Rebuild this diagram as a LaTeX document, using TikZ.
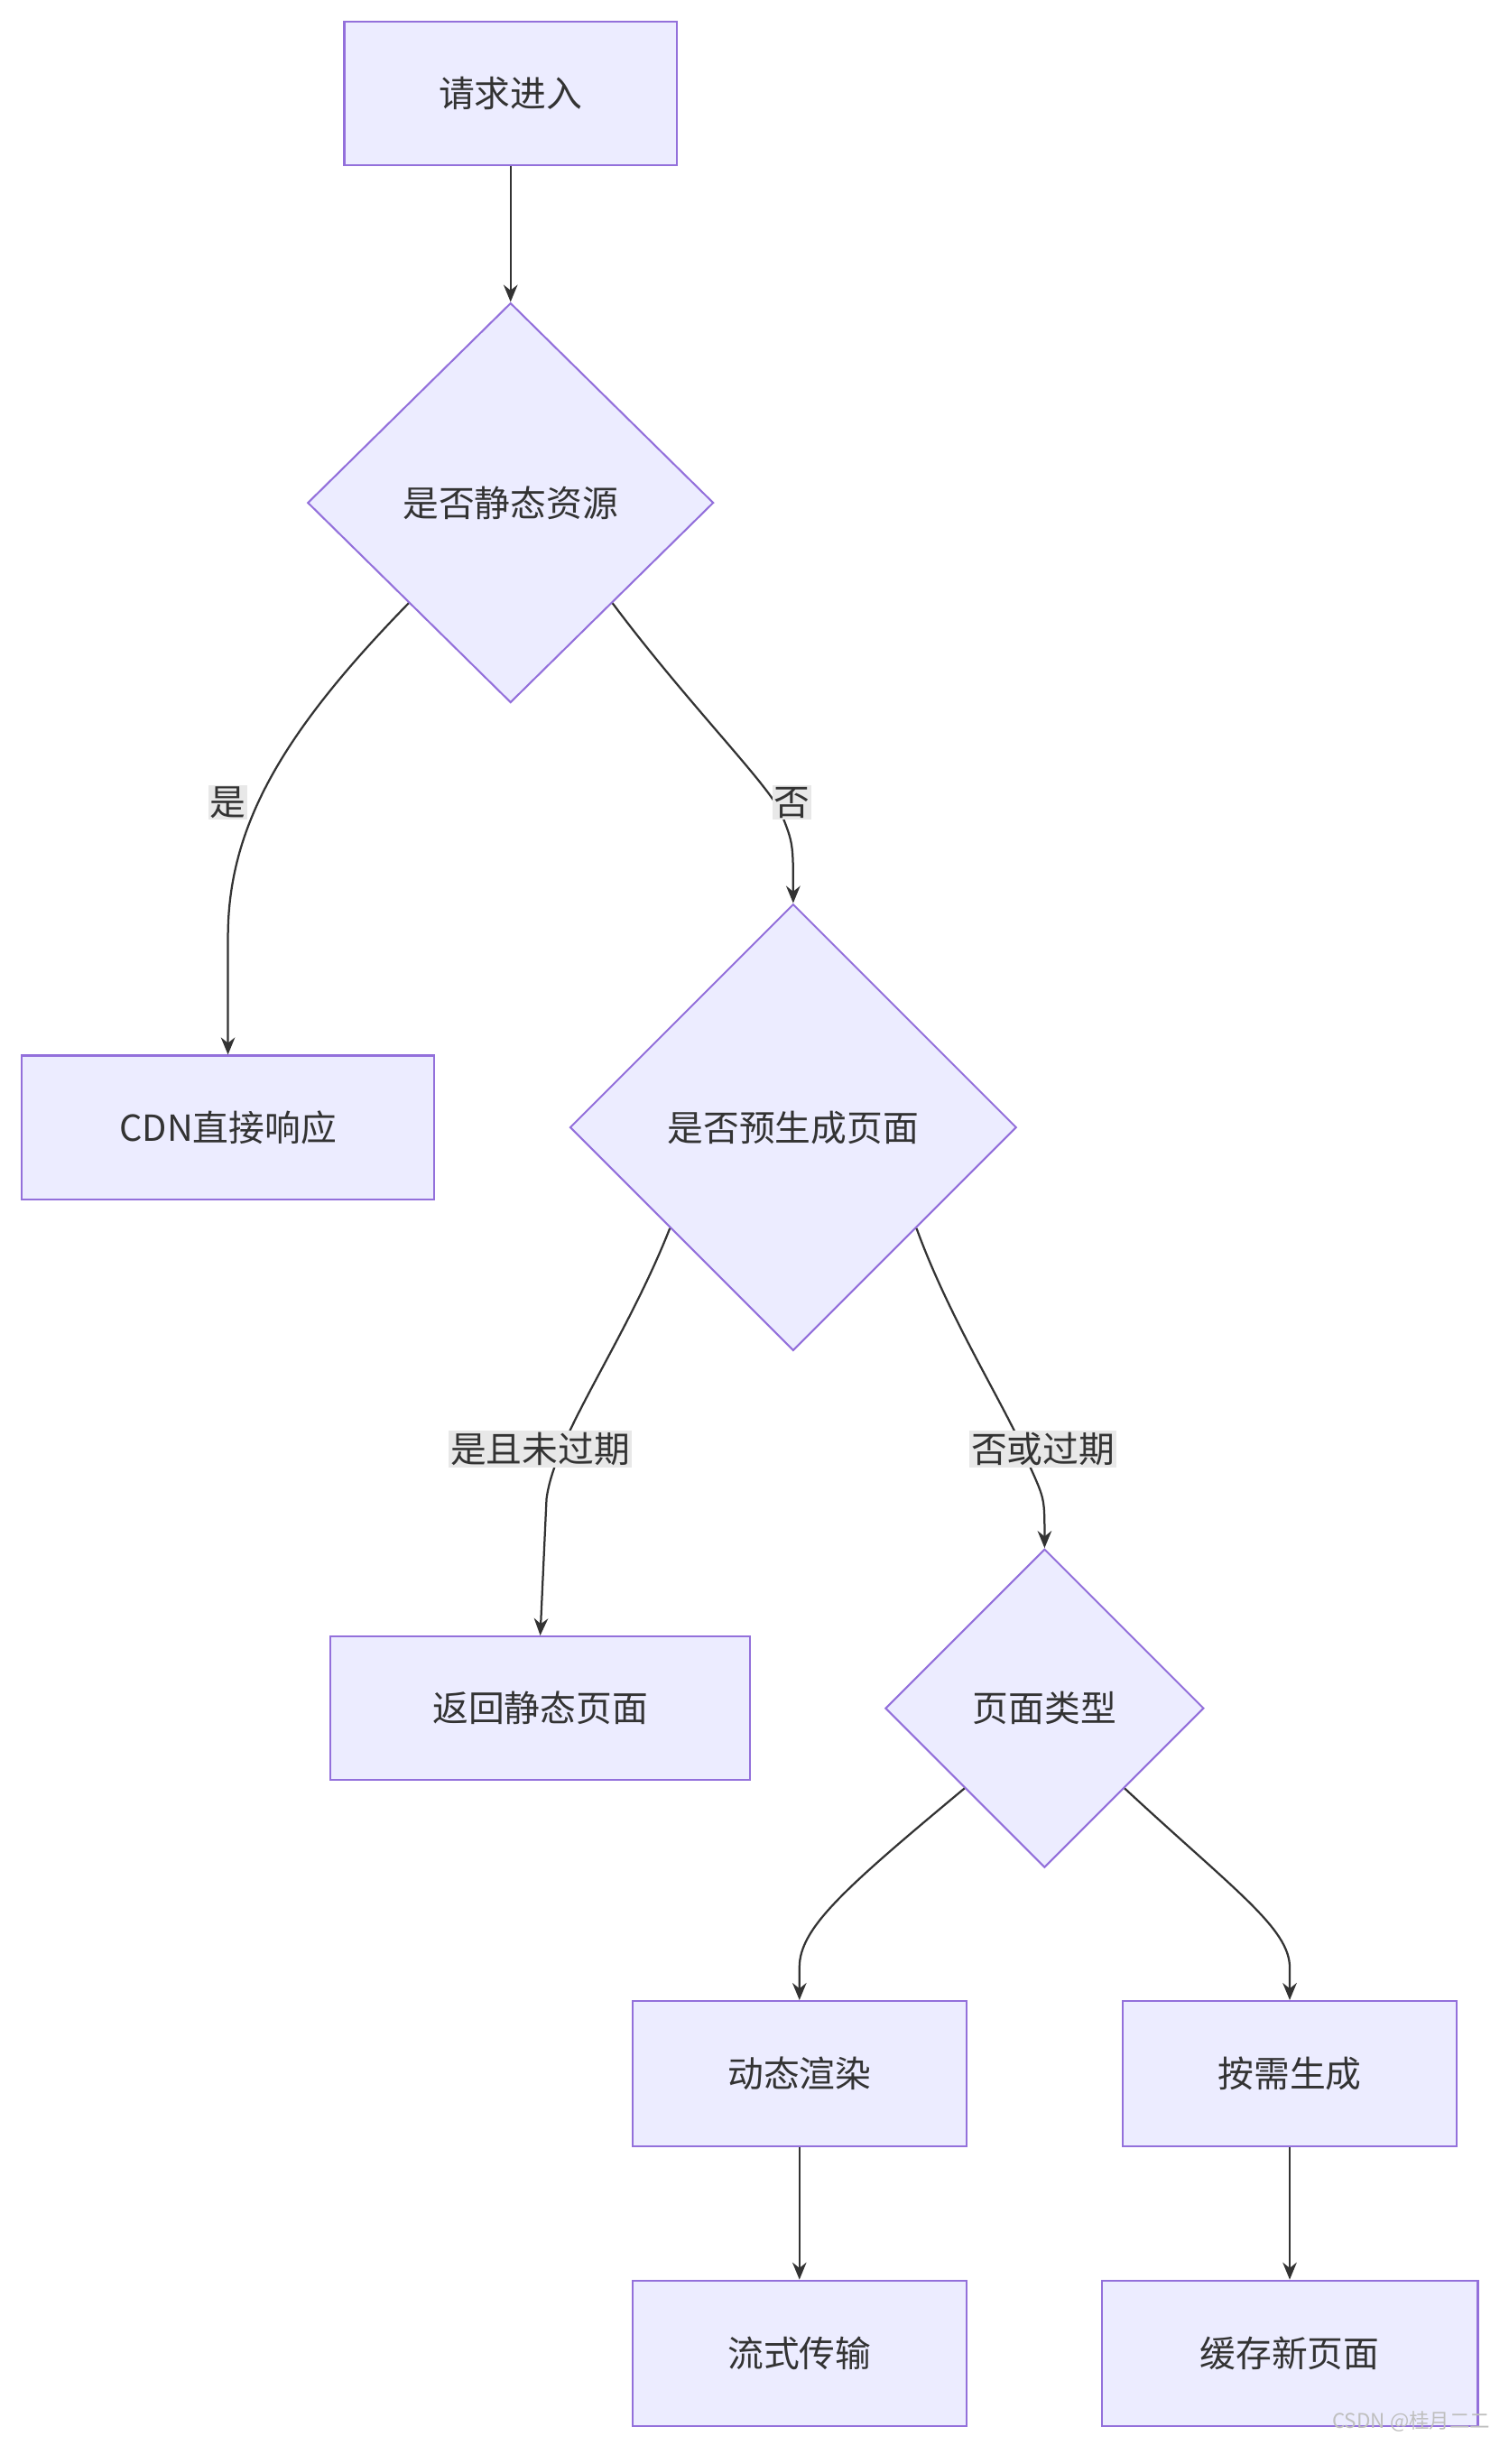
\documentclass[tikz,border=0pt]{standalone}
\usepackage{fontspec}
\setmainfont{Noto Sans CJK SC}
\usetikzlibrary{shapes.geometric,arrows.meta,calc}
\definecolor{nfill}{HTML}{ECECFF}
\definecolor{ndraw}{HTML}{9370DB}
\definecolor{edge}{HTML}{333333}
\definecolor{lbg}{HTML}{E8E8E8}
\begin{document}
\begin{tikzpicture}[x=1pt,y=-1pt,
  box/.style={draw=ndraw,fill=nfill,line width=1.2pt,inner sep=0pt,text=edge,font=\fontsize{23}{28}\selectfont},
  rbox/.style={box,rectangle},
  dia/.style={box,diamond},
  lab/.style={fill=lbg,inner sep=1pt,text=edge,font=\fontsize{23}{28}\selectfont},
  arr/.style={draw=edge,line width=1.3pt,-{Stealth[length=11pt,width=9pt]}}]
\useasboundingbox (0,0) rectangle (966,1578);
\node[rbox,minimum width=213,minimum height=92] (a) at (327,60) {请求进入};
\node[dia,minimum width=260,minimum height=256] (b) at (327,322) {是否静态资源};
\node[rbox,minimum width=264,minimum height=92] (c) at (146,722) {CDN直接响应};
\node[dia,minimum width=286,minimum height=286] (d) at (508,722) {是否预生成页面};
\node[rbox,minimum width=269,minimum height=92] (e) at (346,1094) {返回静态页面};
\node[dia,minimum width=204,minimum height=204] (f) at (669,1094) {页面类型};
\node[rbox,minimum width=214,minimum height=93] (g) at (512,1328) {动态渲染};
\node[rbox,minimum width=214,minimum height=93] (h) at (826,1328) {按需生成};
\node[rbox,minimum width=214,minimum height=93] (i) at (512,1507) {流式传输};
\node[rbox,minimum width=241,minimum height=93] (j) at (826,1507) {缓存新页面};

\draw[arr] (a) -- (b);
\coordinate (b1) at ($(b.west)!0.5!(b.south)$);
\coordinate (b2) at ($(b.east)!0.5!(b.south)$);
\coordinate (d1) at ($(d.west)!0.45!(d.south)$);
\coordinate (d2) at ($(d.east)!0.45!(d.south)$);
\coordinate (f1) at ($(f.west)!0.5!(f.south)$);
\coordinate (f2) at ($(f.east)!0.5!(f.south)$);
\draw[arr] (b1) .. controls (180,470) and (146,530) .. (146,600) -- (c.north);
\draw[arr] (b2) .. controls (440,450) and (490,500) .. (500,520) .. controls (508,540) .. (d.north);
\draw[arr] (d1) .. controls (400,860) and (355,920) .. (350,960) -- (e.north);
\draw[arr] (d2) .. controls (610,850) and (650,910) .. (660,940) .. controls (669,960) .. (f.north);
\draw[arr] (f1) .. controls (540,1210) and (512,1235) .. (512,1260) -- (g.north);
\draw[arr] (f2) .. controls (790,1210) and (826,1235) .. (826,1260) -- (h.north);
\draw[arr] (g) -- (i);
\draw[arr] (h) -- (j);
\node[lab] (l1) at (146,514) {是};
\node[lab] (l2) at (507,514) {否};
\node[lab] (l3) at (346,928) {是且未过期};
\node[lab] (l4) at (668,928) {否或过期};
\node[text=black!25,font=\fontsize{13}{15}\selectfont,anchor=east] (wm) at (958,1551) {CSDN @桂月二二};
\end{tikzpicture}
\end{document}
